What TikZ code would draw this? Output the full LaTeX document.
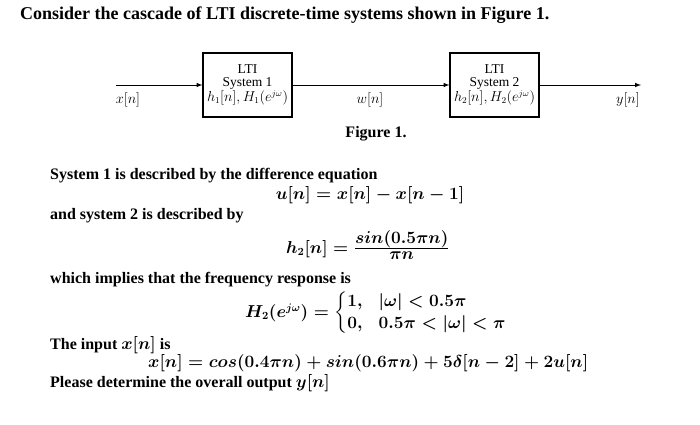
\documentclass[tikz,border=0pt]{standalone}
\usepackage{amsmath}
\usepackage{fontspec}
\setmainfont{Liberation Serif}
\begin{document}
\begin{tikzpicture}[x=1pt,y=-1pt,
  blk/.style={draw,line width=1.2pt,minimum width=89pt,minimum height=64pt,inner sep=1pt,align=center,font=\fontsize{13.5}{13}\selectfont},
  lbl/.style={font=\fontsize{14}{14}\selectfont},
  txt/.style={anchor=west,inner sep=0pt,font=\fontsize{16}{18}\selectfont\bfseries},
  eq/.style={inner sep=0pt,font=\fontsize{16}{18}\selectfont\bfseries\boldmath},
  arr/.style={-latex,line width=1pt}]
\useasboundingbox (0,0) rectangle (700,424);
\node[txt] (title) at (20,15) {\fontsize{18}{20}\selectfont Consider the cascade of LTI discrete-time systems shown in Figure 1.};
\node[blk] (s1) at (247.5,85) {LTI\\System 1\\$h_1[n], H_1(e^{j\omega})$};
\node[blk] (s2) at (494.5,85) {LTI\\System 2\\$h_2[n], H_2(e^{j\omega})$};
\coordinate (in) at (116,85);
\coordinate (out) at (641,85);
\draw[arr] (in) -- (s1);
\draw[arr] (s1) -- (s2);
\draw[arr] (s2) -- (out);
\node[lbl] (xl) at (128,100) {$x[n]$};
\node[lbl] (wl) at (370,100) {$w[n]$};
\node[lbl] (yl) at (628,100) {$y[n]$};
\node[inner sep=0pt,font=\fontsize{16}{18}\selectfont\bfseries] (fig) at (376,134) {Figure 1.};
\node[txt] (t1) at (50,176) {System 1 is described by the difference equation};
\node[eq] (e1) at (370,195) {$u[n]=x[n]-x[n-1]$};
\node[txt] (t2) at (50,216) {and system 2 is described by};
\node[eq,anchor=west] (e2) at (286,245) {$h_2[n]=\frac{\displaystyle sin(0.5\pi n)}{\displaystyle \pi n}$};
\node[txt] (t3) at (50,280) {which implies that the frequency response is};
\node[eq,anchor=west] (e3) at (245,313) {\renewcommand\arraystretch{1}$H_2(e^{j\omega})=\begin{cases}1, & |\omega|<0.5\pi\\ 0, & 0.5\pi<|\omega|<\pi\end{cases}$};
\node[txt] (t4) at (50,345) {The input $\boldsymbol{x[n]}$ is};
\node[eq,anchor=west] (e4) at (148,363) {$x[n]=cos(0.4\pi n)+sin(0.6\pi n)+5\delta[n-2]+2u[n]$};
\node[txt] (t5) at (50,383) {Please determine the overall output $\boldsymbol{y[n]}$};
\end{tikzpicture}
\end{document}
